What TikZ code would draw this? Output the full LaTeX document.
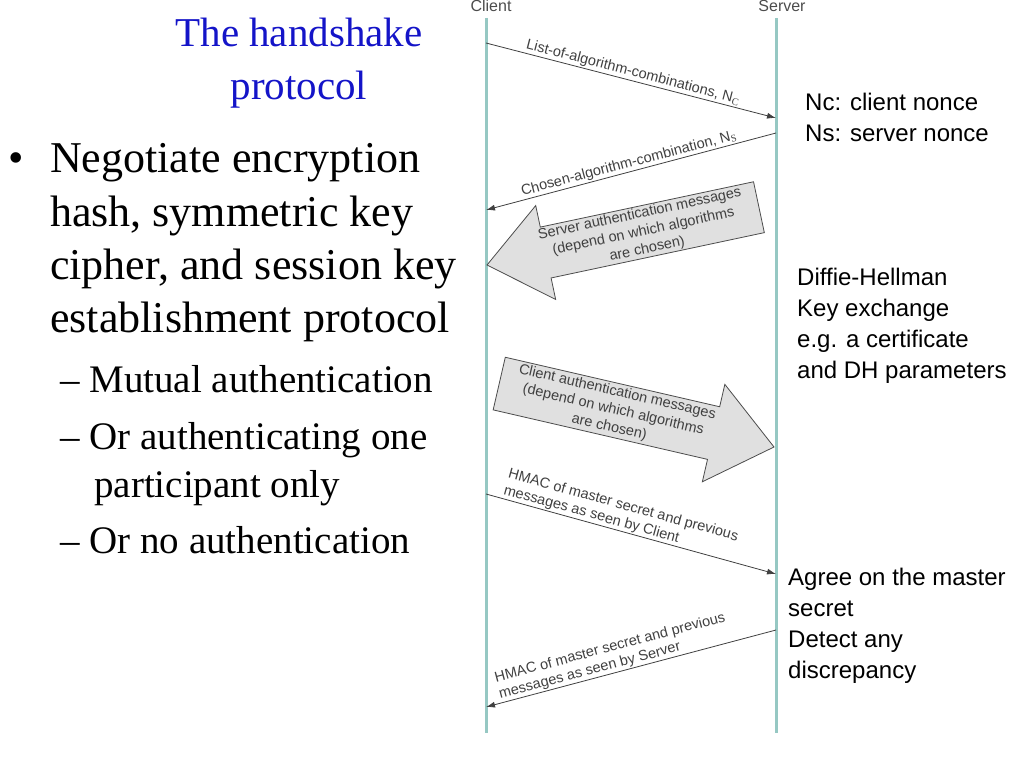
\documentclass[tikz,border=0pt]{standalone}
\usepackage{fontspec}
\setmainfont{Liberation Serif}
\newfontfamily\arialf{Liberation Sans}
\usetikzlibrary{arrows.meta}
\definecolor{life}{RGB}{150,200,195}
\definecolor{ttl}{RGB}{20,20,200}
\tikzset{
  lifeline/.style={life,line width=3pt},
  msg/.style={draw=black!75,line width=0.8pt,-{Latex[length=9pt,width=6pt]}},
  mlab/.style={font=\arialf\fontsize{14.5}{17}\selectfont,text=black!75,align=center,inner sep=1pt},
  blab/.style={font=\arialf\fontsize{14.5}{18}\selectfont,text=black!75,align=center,inner sep=0pt},
  note/.style={font=\arialf\fontsize{24}{24}\selectfont,anchor=base west,inner sep=0pt},
  bigarrow/.style={draw=black!70,fill=black!12,line width=0.8pt},
  bul/.style={font=\fontsize{44}{44}\selectfont,anchor=base west,inner sep=0pt},
  sub/.style={font=\fontsize{39}{39}\selectfont,anchor=base west,inner sep=0pt}
}
\begin{document}
\begin{tikzpicture}[x=1pt,y=-1pt]
\useasboundingbox (0,0) rectangle (1024,768);
% lifelines
\coordinate (c0) at (486,18); \coordinate (c1) at (486,733);
\coordinate (s0) at (776,18); \coordinate (s1) at (776,733);
\draw[lifeline] (c0) -- (c1);
\draw[lifeline] (s0) -- (s1);
\node[font=\arialf\fontsize{16}{16}\selectfont,text=black!70] (cl) at (491,6) {Client};
\node[font=\arialf\fontsize{16}{16}\selectfont,text=black!70] (sv) at (782,6) {Server};
% messages
\coordinate (a1) at (486,43); \coordinate (b1) at (776,118);
\draw[msg] (a1) -- (b1) node[midway,sloped,above,mlab] {List-of-algorithm-combinations, N$_{\mathrm C}$};
\coordinate (a2) at (776,133); \coordinate (b2) at (486,210);
\draw[msg] (a2) -- (b2) node[midway,sloped,above,mlab] {Chosen-algorithm-combination, N$_{\mathrm S}$};
\coordinate (a3) at (486,494); \coordinate (b3) at (776,574);
\draw[msg] (a3) -- (b3) node[pos=0.45,sloped,above,mlab,align=left] {HMAC of master secret and previous\\messages as seen by Client};
\coordinate (a4) at (776,630); \coordinate (b4) at (486,707);
\draw[msg] (a4) -- (b4) node[pos=0.55,sloped,above,mlab,align=left] {HMAC of master secret and previous\\messages as seen by Server};
% big arrows
\begin{scope}[shift={(487,265)},rotate=12]
\draw[bigarrow] (0,0) -- (60,-48) -- (60,-26) -- (278,-26) -- (278,26) -- (60,26) -- (60,48) -- cycle;
\coordinate (sac) at (160,0);
\end{scope}
\node[blab,rotate=12] (sa) at (sac) {Server authentication messages\\(depend on which algorithms\\are chosen)};
\begin{scope}[shift={(774,447)},rotate=-13]
\draw[bigarrow] (0,0) -- (-62,-50) -- (-62,-27) -- (-282,-27) -- (-282,27) -- (-62,27) -- (-62,50) -- cycle;
\coordinate (cac) at (-165,0);
\end{scope}
\node[blab,rotate=-13] (ca) at (cac) {Client authentication messages\\(depend on which algorithms\\are chosen)};
% notes
\node[note] (n1) at (805,110) {Nc: client nonce};
\node[note] (n2) at (805,141) {Ns: server nonce};
\node[note] (n3) at (797,285) {Diffie-Hellman};
\node[note] (n4) at (797,316) {Key exchange};
\node[note] (n5) at (797,347) {e.g. a certificate};
\node[note] (n6) at (797,378) {and DH parameters};
\node[note] (n7) at (788,585) {Agree on the master};
\node[note] (n8) at (788,616) {secret};
\node[note] (n9) at (788,647) {Detect any};
\node[note] (n10) at (788,678) {discrepancy};
% left text
\node[font=\fontsize{41}{41}\selectfont,text=ttl,anchor=base] (t1) at (299,46) {The handshake};
\node[font=\fontsize{41}{41}\selectfont,text=ttl,anchor=base] (t2) at (299,99) {protocol};
\node[bul] (bd) at (8,172) {•};
\node[bul] (b1) at (50,172) {Negotiate encryption};
\node[bul] (b2) at (50,226) {hash, symmetric key};
\node[bul] (b3) at (50,279) {cipher, and session key};
\node[bul] (b4) at (50,332) {establishment protocol};
\node[sub] (s1) at (60,392) {– Mutual authentication};
\node[sub] (s2) at (60,449) {– Or authenticating one};
\node[sub] (s2b) at (94,497) {participant only};
\node[sub] (s3) at (60,553) {– Or no authentication};
\end{tikzpicture}
\end{document}
